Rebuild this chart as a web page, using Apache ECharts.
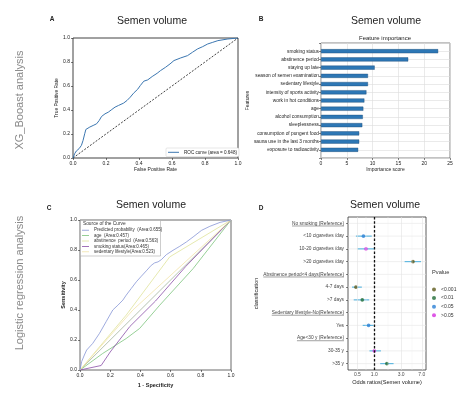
<!DOCTYPE html>
<html><head><meta charset="utf-8">
<script src="https://cdn.jsdelivr.net/npm/echarts@6/dist/echarts.min.js"></script>
<style>html,body{margin:0;padding:0;background:#fff}#c{width:474px;height:395px}</style>
</head><body><div id="c"></div>
<script>
const FONT = '"Liberation Sans", Arial, sans-serif';

// ---------- Panel A : XGBoost ROC ----------
const rocLabel = 'ROC curve (area = 0.648)';
const rocFpr = [0,0.01,0.02,0.037,0.051,0.061,0.071,0.078,0.102,0.122,0.143,0.159,0.173,0.194,0.214,0.235,0.255,0.276,0.306,0.327,0.347,0.367,0.392,0.408,0.429,0.453,0.48,0.51,0.531,0.561,0.588,0.612,0.653,0.694,0.724,0.755,0.786,0.816,0.847,0.878,0.939,1];
const rocTpr = [0,0.036,0.058,0.078,0.105,0.147,0.202,0.238,0.258,0.271,0.285,0.313,0.346,0.368,0.382,0.404,0.424,0.438,0.457,0.479,0.507,0.54,0.573,0.604,0.64,0.651,0.679,0.706,0.729,0.756,0.784,0.812,0.834,0.853,0.881,0.909,0.928,0.95,0.964,0.978,0.992,1];
const diagX = [0, 1];
const diagY = [0, 1];

// ---------- Panel B : feature importance ----------
const featureNames = ['smoking status','abstinence period','staying up late','season of semen examination','sedentary lifestyle','intensity of sports activity','work in hot conditions','age','alcohol consumption','sleeplessness','consumption of pungent food','sauna use in the last 3 months','exposure to radioactivity'];
const featureScores = [22.7,16.9,10.4,9.1,9.1,8.8,8.4,8.2,8.1,8.0,7.4,7.4,7.2];

// ---------- Panel C : logistic ROC ----------
const curveNames = ['Predicted probability  (Area:0.655)','age  (Area:0.457)','abstinence  period  (Area:0.563)','smoking status(Area:0.465)','sedentary lifestyle(Area:0.523)'];
const curveColors = ['#8795d6','#7cc47c','#dfe39a','#8a4fa8','#f1e3a8'];
const predX = [0,0.011,0.029,0.044,0.084,0.129,0.173,0.217,0.251,0.284,0.306,0.339,0.373,0.406,0.439,0.472,0.494,0.517,0.539,0.572,0.616,0.661,0.705,0.749,0.805,0.86,0.927,1];
const predY = [0,0.056,0.1,0.133,0.177,0.244,0.322,0.4,0.432,0.466,0.499,0.543,0.588,0.625,0.661,0.698,0.714,0.721,0.736,0.769,0.798,0.825,0.854,0.887,0.931,0.958,0.984,1];
const ageX = [0,0.15,0.306,0.395,0.528,0.749,1];
const ageY = [0,0.11,0.21,0.277,0.432,0.676,1];
const abstX = [0,0.306,0.594,1];
const abstY = [0,0.366,0.754,1];
const smokX = [0,0.14,0.2,0.33,0.5,0.7,1];
const smokY = [0,0.03,0.12,0.29,0.46,0.69,1];
const sedX = [0,0.35,1];
const sedY = [0,0.40,1];

// ---------- Panel D : forest plot ----------
const orRows = ['No smoking (Reference)','<10 cigarettes /day','10-20 cigarettes /day','>20 cigarettes /day','Abstinence period<4 days(Reference)','4-7 days','>7 days','Sedentary lifestyle-No(Reference)','Yes','Age<30 y (Reference)','30-35 y','>35 y'];
const orEst  = [null,0.64,0.71,4.87,null,0.47,0.61,null,0.79,null,1.00,1.67];
const orLow  = [null,0.47,0.50,3.46,null,0.40,0.43,null,0.62,null,0.82,1.27];
const orHigh = [null,0.90,1.03,6.76,null,0.60,0.81,null,0.97,null,1.31,2.20];
const orP    = [null,'<0.05','>0.05','<0.001',null,'<0.001','<0.01',null,'<0.05',null,'>0.05','<0.01'];
const pGroups = ['<0.001','<0.01','<0.05','>0.05'];
const pColors = ['#5e5a1c','#1f6b35','#2b7fd4','#d62ee0'];
const orMajorTicks = [0.5,1,3,7];
const orMinorTicks = [0.707,1.73,4.58];

const chart = echarts.init(document.getElementById('c'), null, {renderer:'canvas'});

function pairs(xs, ys){ return xs.map((x,i)=>[x, ys[i]]); }
const lbl = (fs, extra) => Object.assign({fontSize:fs, fontFamily:FONT, color:'#222'}, extra||{});

// B categories bottom-to-top with padding
const bCats = [''].concat(featureNames.slice().reverse(), ['']);
const bVals = ['-'].concat(featureScores.slice().reverse(), ['-']);

// D categories bottom-to-top
const nD = orRows.length;
const dCats = orRows.slice().reverse();
const idxD = i => nD - 1 - i;

const grids = [
  {left:73, top:38, width:165, height:120, show:true, borderColor:'#111', borderWidth:0.8, outerBoundsMode:'none'},
  {left:321, top:43, width:129, height:115, show:true, borderColor:'#555', borderWidth:0.7, outerBoundsMode:'none'},
  {left:80, top:220, width:151, height:150, show:true, borderColor:'#444', borderWidth:0.8, outerBoundsMode:'none'},
  {left:348, top:217, width:78, height:153, show:true, borderColor:'#333', borderWidth:0.8, outerBoundsMode:'none'}
];

const unitAxis = (gi, name, gap, nameStyle) => ({
  type:'value', gridIndex:gi, min:0, max:1, interval:0.2,
  name:name, nameLocation:'middle', nameGap:gap, nameTextStyle:nameStyle,
  axisLine:{show:false}, splitLine:{show:false},
  axisTick:{show:true, length:2, lineStyle:{color:'#222', width:0.6}},
  axisLabel:{formatter:v=>v.toFixed(1), margin:3, fontSize:5, fontFamily:FONT, color:'#222'}
});

const xAxes = [
  unitAxis(0,'False Positive Rate',8,lbl(5)),
  {type:'value', gridIndex:1, min:0, max:25, interval:5, name:'Importance score', nameLocation:'middle', nameGap:8, nameTextStyle:lbl(5),
   axisLine:{show:false}, axisTick:{show:true, length:2, lineStyle:{color:'#333', width:0.6}},
   splitLine:{show:true, lineStyle:{color:'#dcdcdc', width:0.6}},
   axisLabel:{margin:3, fontSize:5, fontFamily:FONT, color:'#222'}},
  unitAxis(2,'1 - Specificity',12,lbl(5.5,{fontWeight:'bold'})),
  {type:'log', logBase:10, gridIndex:3, min:0.34, max:8.3, name:'Odds ratios(Semen volume)', nameLocation:'middle', nameGap:9, nameTextStyle:lbl(5.6),
   axisLine:{show:false}, axisTick:{show:false}, axisLabel:{show:false}, splitLine:{show:false}, minorSplitLine:{show:false}}
];
const yAxes = [
  unitAxis(0,'True Positive Rate',11,lbl(4.8)),
  {type:'category', gridIndex:1, data:bCats, boundaryGap:false, name:'Features', nameLocation:'middle', nameGap:60, nameTextStyle:lbl(5),
   axisLine:{show:false}, axisTick:{show:true, interval:0, length:2, lineStyle:{color:'#333', width:0.6}},
   splitLine:{show:true, interval:0, lineStyle:{color:'#dcdcdc', width:0.6}},
   axisLabel:{interval:0, margin:2, fontSize:4.8, fontFamily:FONT, color:'#222'}},
  unitAxis(2,'Sensitivity',13,lbl(5.5,{fontWeight:'bold'})),
  {type:'category', gridIndex:3, data:dCats, boundaryGap:true, name:'classification', nameLocation:'middle', nameGap:83, nameTextStyle:lbl(5.6),
   axisLine:{show:false}, axisTick:{show:true, alignWithLabel:true, interval:0, length:2, lineStyle:{color:'#333', width:0.6}},
   splitLine:{show:false},
   axisLabel:{interval:0, margin:4, fontSize:4.8, fontFamily:FONT, color:'#444'}}
];

const series = [];
// A
series.push({type:'line', name:rocLabel, xAxisIndex:0, yAxisIndex:0, data:pairs(rocFpr, rocTpr), symbol:'none',
  lineStyle:{color:'#3b76b0', width:1}, itemStyle:{color:'#3b76b0'}, z:3});
series.push({type:'line', name:'diagA', xAxisIndex:0, yAxisIndex:0, data:pairs(diagX, diagY), symbol:'none',
  lineStyle:{color:'#111', width:0.8, type:[2,1.5]}, z:2});
// B
series.push({type:'bar', name:'importance', xAxisIndex:1, yAxisIndex:1, data:bVals, barWidth:'50%',
  itemStyle:{color:'#2d77b5', borderColor:'#1c4a73', borderWidth:0.4}, z:3});
// C
series.push({type:'line', name:'diagC', xAxisIndex:2, yAxisIndex:2, data:pairs(diagX, diagY), symbol:'none',
  lineStyle:{color:'#a3b49e', width:0.8}, z:1});
const cData = [pairs(predX,predY), pairs(ageX,ageY), pairs(abstX,abstY), pairs(smokX,smokY), pairs(sedX,sedY)];
cData.forEach((d,i)=>{
  series.push({type:'line', name:curveNames[i], xAxisIndex:2, yAxisIndex:2, data:d, symbol:'none',
    lineStyle:{color:curveColors[i], width:0.8}, itemStyle:{color:curveColors[i]}, z:2+(i===0?3:0)});
});
// D gridlines + markLines
series.push({type:'custom', name:'gridD', xAxisIndex:3, yAxisIndex:3, z:1, silent:true,
  data: orRows.map((r,i)=>[1, idxD(i)]), encode:{x:0, y:1},
  renderItem:(params, api)=>{
    const cs = params.coordSys; const p = api.coord([1, api.value(1)]);
    return {type:'line', shape:{x1:cs.x, y1:p[1], x2:cs.x+cs.width, y2:p[1]}, style:{stroke:'#e6e6e6', lineWidth:0.6}};
  },
  markLine:{silent:true, symbol:'none', animation:false,
    data: orMinorTicks.map(v=>({xAxis:v, lineStyle:{color:'#f0f0f0', width:0.4, type:'solid'}, label:{show:false}}))
      .concat(orMajorTicks.map(v=>({xAxis:v, lineStyle:{color:'#e3e3e3', width:0.6, type:'solid'},
        label:{show:true, position:'start', distance:2, formatter:p=>Number(p.value).toFixed(1), fontSize:5, fontFamily:FONT, color:'#4d4d4d'}})))
  }
});
series.push({type:'custom', name:'refD', xAxisIndex:3, yAxisIndex:3, z:2, silent:true,
  data:[[1, 0]], encode:{x:0, y:1},
  renderItem:()=>({type:'group', children:[]}),
  markLine:{silent:true, symbol:'none', animation:false,
    data:[{xAxis:1, lineStyle:{color:'#111', width:1.3, type:[2.5,1.8]}, label:{show:false}}]}
});
// D CI
const ciData = [];
orRows.forEach((r,i)=>{ if (orEst[i] !== null) ciData.push([orLow[i], orHigh[i], idxD(i)]); });
series.push({type:'custom', name:'ciD', xAxisIndex:3, yAxisIndex:3, z:3, silent:true,
  data:ciData, encode:{x:[0,1], y:2},
  renderItem:(params, api)=>{
    const a = api.coord([api.value(0), api.value(2)]); const b = api.coord([api.value(1), api.value(2)]);
    return {type:'line', shape:{x1:a[0], y1:a[1], x2:b[0], y2:b[1]}, style:{stroke:'#58b6e0', lineWidth:1.1}};
  }
});
pGroups.forEach((g,gi)=>{
  const d = [];
  orRows.forEach((r,i)=>{ if (orP[i] === g) d.push([orEst[i], idxD(i)]); });
  series.push({type:'scatter', name:g, xAxisIndex:3, yAxisIndex:3, data:d, symbol:'circle', symbolSize:3.6,
    itemStyle:{color:pColors[gi]}, z:4});
});

const legends = [
  {data:[rocLabel], left:166, top:148, orient:'vertical', padding:[1.8,2], itemGap:0, itemWidth:11, itemHeight:1, icon:'rect',
   borderColor:'#cccccc', borderWidth:0.5, borderRadius:1, backgroundColor:'#fff',
   textStyle:{fontSize:4.6, fontFamily:FONT, color:'#222'}},
  {data:curveNames, left:82, top:227.5, orient:'vertical', padding:0, itemGap:0, itemWidth:7, itemHeight:0.8, icon:'rect',
   textStyle:{fontSize:4.5, fontFamily:FONT, color:'#333', lineHeight:5.4}},
  {data:pGroups, left:432, top:287, orient:'vertical', padding:0, itemGap:3.6, itemWidth:4, itemHeight:4, icon:'circle',
   textStyle:{fontSize:5, fontFamily:FONT, color:'#333'}}
];

const txt = (text, x, y, fs, opt) => Object.assign({type:'text', x:x, y:y, silent:true, z:10,
  style:Object.assign({text:text, fontSize:fs, fontFamily:FONT, fill:'#222', align:'center', verticalAlign:'middle'}, (opt&&opt.style)||{})},
  opt&&opt.el||{});

const baseGraphic = [
  txt('A', 52, 19, 6.5, {style:{fontWeight:'bold'}}),
  txt('B', 261, 19, 6.5, {style:{fontWeight:'bold'}}),
  txt('C', 49, 208, 6.5, {style:{fontWeight:'bold'}}),
  txt('D', 261, 208, 6.5, {style:{fontWeight:'bold'}}),
  txt('Semen volume', 152, 21, 10.5),
  txt('Semen volume', 386, 21, 10.5),
  txt('Semen volume', 151, 205, 10.5),
  txt('Semen volume', 385, 205, 10.5),
  txt('Feature importance', 385, 38, 6),
  txt('XG_Booast analysis', 20, 100, 11, {style:{fill:'#8a8a8a'}, el:{rotation:Math.PI/2}}),
  txt('Logistic regression analysis', 20, 283, 11, {style:{fill:'#8a8a8a'}, el:{rotation:Math.PI/2}}),
  txt('Pvalue', 432, 272, 5.7, {style:{align:'left', fill:'#333'}}),
  {type:'rect', shape:{x:80.5, y:220.5, width:80, height:35.5}, style:{fill:'#fff', stroke:'#9a9a9a', lineWidth:0.5}, z:0, silent:true},
  txt('Source of the Curve', 83, 223.5, 4.8, {style:{align:'left', fill:'#333'}})
];

chart.setOption({
  animation:false,
  backgroundColor:'#ffffff',
  grid:grids, xAxis:xAxes, yAxis:yAxes, series:series, legend:legends,
  graphic:baseGraphic
});

// underline reference labels in D
const ctx = document.createElement('canvas').getContext('2d');
ctx.font = '4.8px "Liberation Sans"';
const underlines = [];
orRows.forEach((r,i)=>{
  if (orEst[i] === null) {
    const p = chart.convertToPixel({xAxisIndex:3, yAxisIndex:3}, [1, idxD(i)]);
    const w = ctx.measureText(r).width;
    const xr = 348 - 4;
    underlines.push({type:'line', silent:true, z:10, shape:{x1:xr - w, y1:p[1]+2.6, x2:xr, y2:p[1]+2.6}, style:{stroke:'#444', lineWidth:0.5}});
  }
});
chart.setOption({graphic: baseGraphic.concat(underlines)});
</script>
</body></html>
